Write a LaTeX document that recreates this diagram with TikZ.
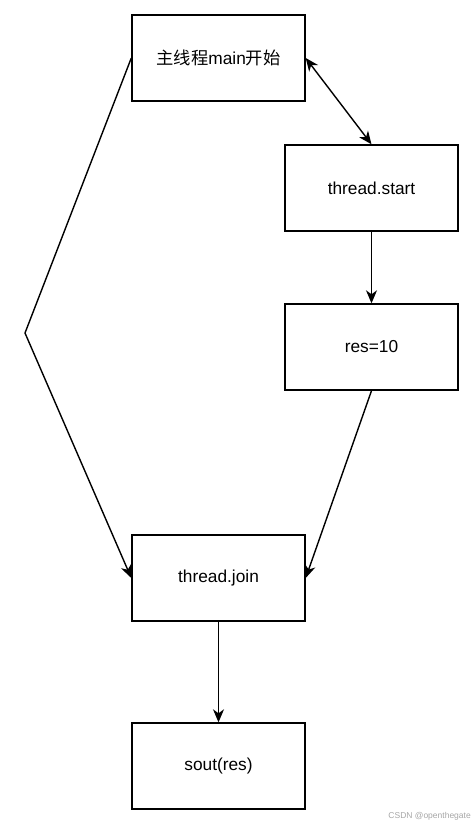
\documentclass[tikz,border=0pt]{standalone}
\usepackage{fontspec}
\setmainfont{Liberation Sans}
\newfontfamily\cjk{Noto Sans CJK SC}
\usetikzlibrary{arrows.meta}
\begin{document}
\begin{tikzpicture}[x=1pt,y=-1pt,
  box/.style={draw=black,line width=1.4pt,minimum width=173pt,minimum height=86pt,inner sep=0pt,font=\fontsize{17.3}{20}\selectfont},
  tip/.style={Stealth[length=13pt,width=11pt,inset=4pt]},
  conn/.style={line width=1.4pt,-{Stealth[length=13pt,width=11pt,inset=4pt]}},
  dconn/.style={line width=1.4pt,{Stealth[length=13pt,width=11pt,inset=4pt]}-{Stealth[length=13pt,width=11pt,inset=4pt]}}]
\useasboundingbox (0,0) rectangle (474,825);
\node[box] (main) at (218.5,58) {{\cjk 主线程}main{\cjk 开始}};
\node[box] (start) at (371.5,188) {thread.start};
\node[box] (res) at (371.5,347) {res=10};
\node[box] (join) at (218.5,578) {thread.join};
\node[box] (sout) at (218.5,766) {sout(res)};
\coordinate (bend) at (25,333);
\draw[dconn] (main.east) -- (start.north);
\draw[conn] (start.south) -- (res.north);
\draw[conn] (res.south) -- (join.east);
\draw[conn] (main.west) -- (bend) -- (join.west);
\draw[conn] (join.south) -- (sout.north);
\node[anchor=base east,text=black!35,font=\fontsize{8.5}{10}\selectfont,inner sep=0pt] (wm) at (471,818) {CSDN @openthegate};
\end{tikzpicture}
\end{document}
